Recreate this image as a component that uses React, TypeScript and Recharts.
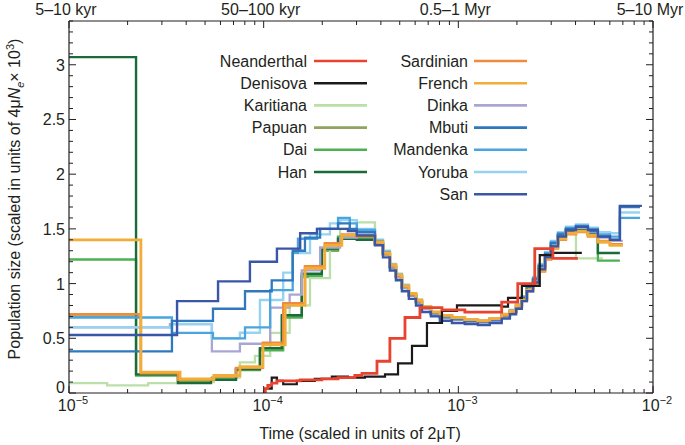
import { LineChart, Line, XAxis, YAxis, Legend, Label } from "recharts";

const W = 685;
const H = 445;
const PLOT = { left: 69, top: 21, right: 653, bottom: 393 };
const FONT = "'Liberation Sans', Arial, Helvetica, sans-serif";
const INK = "#231f20";

// axis labels
const decades = [1e-5, 1e-4, 1e-3, 1e-2];
const decadeExponents = ["−5", "−4", "−3", "−2"];
const topLabels = ["5–10 kyr", "50–100 kyr", "0.5–1 Myr", "5–10 Myr"];
const sizeLabels = [0, 0.5, 1, 1.5, 2, 2.5, 3];
const sizeMax = 3.4;

const timeTicks: number[] = [];
decades.forEach((d, i) => {
  timeTicks.push(d);
  if (i < decades.length - 1) for (let k = 2; k <= 9; k++) timeTicks.push(k * d);
});
const sizeTicks: number[] = [];
for (let i = 0; i <= 34; i++) sizeTicks.push(i / 10);

type Step = [number, number];

// shared PSMC interval starts for the modern samples after the 300 kyr peak
const lateTimes = [
  3.01e-4, 3.73e-4, 4.1e-4, 4.45e-4, 4.78e-4, 5.13e-4, 5.57e-4, 6.06e-4, 6.5e-4, 7.23e-4,
  8.04e-4, 9.27e-4, 1.08e-3, 1.26e-3, 1.45e-3, 1.67e-3, 1.84e-3, 1.98e-3, 2.12e-3, 2.25e-3,
  2.42e-3, 2.59e-3, 2.79e-3, 2.99e-3, 3.25e-3, 3.57e-3, 4.02e-3, 4.63e-3, 5.21e-3, 6.01e-3,
  6.76e-3,
];

const neanderthalSteps: Step[] = [
  [9.91e-5, 0.01], [1.02e-4, 0.04], [1.05e-4, 0.07], [1.1e-4, 0.09], [1.17e-4, 0.11],
  [1.54e-4, 0.12], [1.99e-4, 0.13], [2.41e-4, 0.14], [2.94e-4, 0.16], [3.2e-4, 0.18],
  [3.82e-4, 0.29], [4.45e-4, 0.5], [5.32e-4, 0.69], [6.35e-4, 0.78], [8.24e-4, 0.76],
  [1.08e-3, 0.74], [1.67e-3, 0.83], [2.02e-3, 1.0], [2.47e-3, 1.32], [3.06e-3, 1.23],
];
const neanderthalEnd = 4.11e-3;

const denisovaSteps: Step[] = [
  [1.02e-4, 0.04], [1.1e-4, 0.14], [1.17e-4, 0.11], [1.26e-4, 0.08], [1.48e-4, 0.11],
  [1.83e-4, 0.13], [2.24e-4, 0.15], [2.71e-4, 0.14], [3.31e-4, 0.15], [4.2e-4, 0.17],
  [4.9e-4, 0.27], [5.78e-4, 0.43], [6.9e-4, 0.64], [8.24e-4, 0.75], [9.84e-4, 0.8],
  [1.67e-3, 0.79], [1.8e-3, 0.87], [2.12e-3, 0.98], [2.62e-3, 1.26], [3.06e-3, 1.28],
];
const denisovaEnd = 4.31e-3;

const karitianaEarly: Step[] = [
  [1e-5, 0.09], [1.57e-5, 0.07], [2.55e-5, 0.09], [3.72e-5, 0.1], [5.55e-5, 0.14],
  [7.55e-5, 0.28], [9.02e-5, 0.34], [1.08e-4, 0.55], [1.36e-4, 0.8], [1.73e-4, 1.05],
  [2.19e-4, 1.37], [2.47e-4, 1.5], [2.77e-4, 1.58],
];
const karitianaLate = [
  1.56, 1.4, 1.29, 1.17, 1.08, 0.98, 0.91, 0.85, 0.79, 0.74, 0.71, 0.69, 0.67, 0.66, 0.68,
  0.72, 0.76, 0.81, 0.88, 0.98, 1.05, 1.17, 1.28, 1.38, 1.45, 1.47, 1.23, 1.23, 1.23,
];
const karitianaEnd = 5.53e-3;

const papuanEarly: Step[] = [
  [1e-5, 0.7], [2.34e-5, 0.17], [3.63e-5, 0.11], [5.42e-5, 0.14], [7.21e-5, 0.22],
  [9.57e-5, 0.4], [1.24e-4, 0.7], [1.57e-4, 1.06], [1.99e-4, 1.3], [2.41e-4, 1.42],
];
const papuanLate = [
  1.43, 1.37, 1.27, 1.16, 1.07, 0.97, 0.9, 0.84, 0.78, 0.73, 0.7, 0.68, 0.66, 0.65, 0.67,
  0.71, 0.75, 0.8, 0.87, 0.97, 1.04, 1.16, 1.27, 1.37, 1.45, 1.49, 1.5, 1.46, 1.38, 1.36,
];
const papuanEnd = 6.76e-3;

const daiEarly: Step[] = [
  [1e-5, 1.22], [2.21e-5, 0.16], [3.63e-5, 0.1], [5.36e-5, 0.13], [7.21e-5, 0.21],
  [9.57e-5, 0.39], [1.26e-4, 0.69], [1.57e-4, 1.07], [1.99e-4, 1.31], [2.41e-4, 1.43],
];
const daiLate = [
  1.42, 1.36, 1.27, 1.15, 1.06, 0.96, 0.89, 0.83, 0.77, 0.72, 0.69, 0.67, 0.65, 0.64, 0.66,
  0.7, 0.74, 0.79, 0.86, 0.96, 1.03, 1.15, 1.26, 1.36, 1.44, 1.48, 1.49, 1.45, 1.21, 1.21,
];
const daiEnd = 6.76e-3;

const hanEarly: Step[] = [
  [1e-5, 3.07], [2.21e-5, 0.17], [3.63e-5, 0.09], [5.36e-5, 0.12], [7.21e-5, 0.22],
  [9.57e-5, 0.41], [1.24e-4, 0.71], [1.57e-4, 1.09], [1.99e-4, 1.32], [2.41e-4, 1.41],
];
const hanLate = [
  1.4, 1.36, 1.27, 1.15, 1.06, 0.96, 0.89, 0.83, 0.77, 0.72, 0.69, 0.67, 0.65, 0.64, 0.66,
  0.7, 0.74, 0.79, 0.86, 0.96, 1.03, 1.15, 1.26, 1.36, 1.44, 1.48, 1.49, 1.45, 1.28, 1.28,
];
const hanEnd = 6.76e-3;

const sardinianEarly: Step[] = [
  [1e-5, 0.72], [2.34e-5, 0.18], [3.63e-5, 0.12], [5.55e-5, 0.15], [7.21e-5, 0.23],
  [9.91e-5, 0.46], [1.26e-4, 0.82], [1.63e-4, 1.16], [2.06e-4, 1.37], [2.52e-4, 1.45],
];
const sardinianLate = [
  1.43, 1.37, 1.27, 1.16, 1.07, 0.97, 0.9, 0.84, 0.78, 0.74, 0.71, 0.69, 0.67, 0.66, 0.68,
  0.71, 0.74, 0.79, 0.84, 0.93, 1.0, 1.11, 1.22, 1.32, 1.4, 1.45, 1.47, 1.43, 1.39, 1.36,
];
const sardinianEnd = 7.0e-3;

const frenchEarly: Step[] = [
  [1e-5, 1.4], [2.34e-5, 0.19], [3.72e-5, 0.13], [5.55e-5, 0.16], [7.55e-5, 0.24],
  [9.91e-5, 0.44], [1.29e-4, 0.8], [1.63e-4, 1.14], [2.06e-4, 1.35], [2.52e-4, 1.44],
];
const frenchLate = [
  1.44, 1.38, 1.28, 1.17, 1.08, 0.98, 0.91, 0.85, 0.79, 0.74, 0.71, 0.69, 0.67, 0.66, 0.68,
  0.72, 0.75, 0.8, 0.85, 0.94, 1.01, 1.12, 1.23, 1.33, 1.41, 1.46, 1.48, 1.44, 1.38, 1.35,
];
const frenchEnd = 7.0e-3;

const dinkaEarly: Step[] = [
  [1e-5, 0.6], [3.3e-5, 0.63], [5.42e-5, 0.38], [7.55e-5, 0.45], [1.08e-4, 0.78],
  [1.36e-4, 0.9], [1.57e-4, 1.12], [1.95e-4, 1.33], [2.47e-4, 1.42],
];
const dinkaLate = [
  1.45, 1.37, 1.27, 1.15, 1.06, 0.96, 0.89, 0.83, 0.77, 0.72, 0.69, 0.67, 0.65, 0.64, 0.66,
  0.7, 0.74, 0.79, 0.86, 0.96, 1.03, 1.15, 1.26, 1.36, 1.44, 1.49, 1.51, 1.47, 1.42, 1.39,
];
const dinkaEnd = 7.0e-3;

const mbutiEarly: Step[] = [
  [1e-5, 0.38], [3.38e-5, 0.66], [5.49e-5, 0.77], [8.02e-5, 0.93], [1.1e-4, 1.03],
  [1.41e-4, 1.3], [1.63e-4, 1.42], [1.95e-4, 1.5], [2.41e-4, 1.55], [2.77e-4, 1.5],
];
const mbutiLate = [
  1.47, 1.38, 1.28, 1.16, 1.07, 0.97, 0.9, 0.84, 0.78, 0.73, 0.7, 0.68, 0.66, 0.65, 0.67,
  0.71, 0.75, 0.8, 0.87, 0.97, 1.04, 1.16, 1.27, 1.37, 1.45, 1.5, 1.52, 1.48, 1.43, 1.4, 1.7,
];
const mbutiEnd = 8.57e-3;

const mandenkaEarly: Step[] = [
  [1e-5, 0.69], [3.38e-5, 0.55], [5.49e-5, 0.5], [8.02e-5, 0.6], [1.08e-4, 0.94],
  [1.41e-4, 1.28], [1.5e-4, 1.41], [1.88e-4, 1.5], [2.41e-4, 1.6], [2.77e-4, 1.55],
];
const mandenkaLate = [
  1.49, 1.39, 1.29, 1.17, 1.08, 0.98, 0.9, 0.84, 0.78, 0.73, 0.7, 0.68, 0.66, 0.65, 0.67,
  0.71, 0.75, 0.8, 0.88, 0.98, 1.05, 1.17, 1.28, 1.38, 1.46, 1.51, 1.53, 1.5, 1.45, 1.43, 1.6,
];
const mandenkaEnd = 8.57e-3;

const yorubaEarly: Step[] = [
  [1e-5, 0.6], [3.38e-5, 0.63], [5.42e-5, 0.5], [7.55e-5, 0.55], [9.57e-5, 0.85],
  [1.26e-4, 1.1], [1.41e-4, 1.28], [1.73e-4, 1.45], [2.19e-4, 1.55], [2.47e-4, 1.58],
];
const yorubaLate = [
  1.5, 1.4, 1.3, 1.18, 1.09, 0.99, 0.91, 0.85, 0.79, 0.74, 0.71, 0.69, 0.67, 0.66, 0.68,
  0.72, 0.76, 0.81, 0.88, 0.98, 1.06, 1.18, 1.29, 1.39, 1.47, 1.52, 1.54, 1.51, 1.47, 1.46, 1.65,
];
const yorubaEnd = 8.57e-3;

const sanEarly: Step[] = [
  [1e-5, 0.53], [3.59e-5, 0.84], [5.83e-5, 1.02], [8.5e-5, 1.2], [1.17e-4, 1.32],
  [1.54e-4, 1.46], [1.88e-4, 1.5], [2.71e-4, 1.48],
];
const sanLate = [
  1.44, 1.35, 1.24, 1.12, 1.03, 0.93, 0.86, 0.8, 0.74, 0.7, 0.66, 0.64, 0.63, 0.62, 0.64,
  0.68, 0.72, 0.77, 0.84, 0.93, 1.01, 1.13, 1.24, 1.34, 1.43, 1.49, 1.52, 1.49, 1.43, 1.4, 1.71,
];
const sanEnd = 8.77e-3;

function toRows(early: Step[], late: number[], end: number) {
  const rows = early.map(([t, n]) => ({ t, n }));
  late.forEach((n, i) => {
    if (lateTimes[i] < end) rows.push({ t: lateTimes[i], n });
  });
  rows.push({ t: end, n: rows[rows.length - 1].n });
  return rows;
}

// drawing order: first is at the bottom
const series = [
  { name: "Papuan", color: "#8fa45c", width: 2.3, rows: toRows(papuanEarly, papuanLate, papuanEnd) },
  { name: "Karitiana", color: "#badfa9", width: 2.3, rows: toRows(karitianaEarly, karitianaLate, karitianaEnd) },
  { name: "Dai", color: "#4db052", width: 2.3, rows: toRows(daiEarly, daiLate, daiEnd) },
  { name: "Han", color: "#1b6a39", width: 2.4, rows: toRows(hanEarly, hanLate, hanEnd) },
  { name: "Dinka", color: "#aaa6d4", width: 2.3, rows: toRows(dinkaEarly, dinkaLate, dinkaEnd) },
  { name: "Yoruba", color: "#97d3f1", width: 2.4, rows: toRows(yorubaEarly, yorubaLate, yorubaEnd) },
  { name: "Mandenka", color: "#4aa5de", width: 2.3, rows: toRows(mandenkaEarly, mandenkaLate, mandenkaEnd) },
  { name: "Mbuti", color: "#2f78bd", width: 2.3, rows: toRows(mbutiEarly, mbutiLate, mbutiEnd) },
  { name: "Sardinian", color: "#f08a3c", width: 2.4, rows: toRows(sardinianEarly, sardinianLate, sardinianEnd) },
  { name: "French", color: "#f2ad38", width: 2.8, rows: toRows(frenchEarly, frenchLate, frenchEnd) },
  { name: "San", color: "#3a56a6", width: 2.4, rows: toRows(sanEarly, sanLate, sanEnd) },
  { name: "Denisova", color: "#1a1a1a", width: 2.2, rows: toRows(denisovaSteps, [], denisovaEnd) },
  { name: "Neanderthal", color: "#e8432f", width: 2.8, rows: toRows(neanderthalSteps, [], neanderthalEnd) },
];

const legendLeft = ["Neanderthal", "Denisova", "Karitiana", "Papuan", "Dai", "Han"];
const legendRight = ["Sardinian", "French", "Dinka", "Mbuti", "Mandenka", "Yoruba", "San"];
const colorOf = (name: string) => series.find((s) => s.name === name)?.color ?? INK;

function BottomTick(props: any) {
  const { x, payload } = props;
  const i = decades.indexOf(payload.value);
  const len = i >= 0 ? 7 : 4;
  return (
    <g>
      <line x1={x} x2={x} y1={PLOT.bottom} y2={PLOT.bottom - len} stroke={INK} strokeWidth={1} />
      {i >= 0 && (
        <text x={x + 4} y={PLOT.bottom + 18} textAnchor="middle" fontSize={16} fill={INK} fontFamily={FONT}>
          10<tspan dy={-7} fontSize={11}>{decadeExponents[i]}</tspan>
        </text>
      )}
    </g>
  );
}

function TopTick(props: any) {
  const { x, payload } = props;
  const i = decades.indexOf(payload.value);
  const len = i >= 0 ? 7 : 4;
  return (
    <g>
      <line x1={x} x2={x} y1={PLOT.top} y2={PLOT.top + len} stroke={INK} strokeWidth={1} />
      {i >= 0 && (
        <text x={x - 3} y={15} textAnchor="middle" fontSize={16} fill={INK} fontFamily={FONT}>
          {topLabels[i]}
        </text>
      )}
    </g>
  );
}

function LeftTick(props: any) {
  const { y, payload } = props;
  const major = sizeLabels.includes(payload.value);
  // the zero label sits a little above its tick so it clears the time labels
  const baseline = payload.value === 0 ? y : y + 6;
  return (
    <g>
      <line x1={PLOT.left} x2={PLOT.left + (major ? 7 : 4)} y1={y} y2={y} stroke={INK} strokeWidth={1} />
      {major && (
        <text x={PLOT.left - 4} y={baseline} textAnchor="end" fontSize={16} fill={INK} fontFamily={FONT}>
          {payload.value}
        </text>
      )}
    </g>
  );
}

function RightTick(props: any) {
  const { y, payload } = props;
  const major = sizeLabels.includes(payload.value);
  return <line x1={PLOT.right} x2={PLOT.right - (major ? 7 : 4)} y1={y} y2={y} stroke={INK} strokeWidth={1} />;
}

function XTitle() {
  return (
    <text x={360} y={439} textAnchor="middle" fontSize={16} fill={INK} fontFamily={FONT}>
      Time (scaled in units of 2μT)
    </text>
  );
}

function YTitle() {
  return (
    <text transform="translate(20 199) rotate(-90)" textAnchor="middle" fontSize={16} fill={INK} fontFamily={FONT}>
      Population size (scaled in units of 4μ<tspan fontStyle="italic">N</tspan>
      <tspan fontStyle="italic" fontSize={11} dy={4}>e</tspan>
      <tspan dy={-4}>× 10</tspan>
      <tspan fontSize={11} dy={-6}>3</tspan>
      <tspan dy={6}>)</tspan>
    </text>
  );
}

function LegendBox() {
  const row = (names: string[], textRight: number, lineFrom: number, lineTo: number) =>
    names.map((name, i) => {
      const cy = 61 + i * 22.2;
      return (
        <g key={name}>
          <text x={textRight} y={cy + 5.5} textAnchor="end" fontSize={16} fill={INK} fontFamily={FONT}>
            {name}
          </text>
          <line x1={lineFrom} x2={lineTo} y1={cy} y2={cy} stroke={colorOf(name)} strokeWidth={2.6} />
        </g>
      );
    });
  return (
    <svg width={W} height={210} style={{ display: "block" }}>
      {row(legendLeft, 307, 314, 367)}
      {row(legendRight, 468, 474, 527)}
    </svg>
  );
}

export default function App() {
  return (
    <div style={{ position: "absolute", left: 0, top: 0, width: W, height: H, background: "#fff", fontFamily: FONT }}>
      <LineChart width={W} height={H} margin={{ top: 0, right: 0, bottom: 0, left: 0 }}>
        <XAxis
          xAxisId="b"
          dataKey="t"
          type="number"
          scale="log"
          domain={[1e-5, 1e-2]}
          allowDataOverflow
          ticks={timeTicks}
          interval={0}
          tick={BottomTick}
          tickLine={false}
          axisLine={{ stroke: INK, strokeWidth: 1.2 }}
          height={52}
        >
          <Label content={XTitle} />
        </XAxis>
        <XAxis
          xAxisId="top"
          orientation="top"
          dataKey="t"
          type="number"
          scale="log"
          domain={[1e-5, 1e-2]}
          allowDataOverflow
          ticks={timeTicks}
          interval={0}
          tick={TopTick}
          tickLine={false}
          axisLine={{ stroke: INK, strokeWidth: 1.2 }}
          height={21}
        />
        <YAxis
          yAxisId="l"
          type="number"
          domain={[0, sizeMax]}
          allowDataOverflow
          ticks={sizeTicks}
          interval={0}
          tick={LeftTick}
          tickLine={false}
          axisLine={{ stroke: INK, strokeWidth: 1.2 }}
          width={69}
        >
          <Label content={YTitle} />
        </YAxis>
        <YAxis
          yAxisId="r"
          orientation="right"
          type="number"
          domain={[0, sizeMax]}
          allowDataOverflow
          ticks={sizeTicks}
          interval={0}
          tick={RightTick}
          tickLine={false}
          axisLine={{ stroke: INK, strokeWidth: 1.2 }}
          width={32}
        />
        <Legend
          content={LegendBox}
          layout="vertical"
          align="center"
          verticalAlign="middle"
          wrapperStyle={{ left: 0, top: 0, width: W, height: 210, pointerEvents: "none" }}
        />
        {series.map((s) => (
          <Line
            key={s.name}
            name={s.name}
            data={s.rows}
            dataKey="n"
            xAxisId="b"
            yAxisId="l"
            type="stepAfter"
            stroke={s.color}
            strokeWidth={s.width}
            dot={false}
            activeDot={false}
            isAnimationActive={false}
          />
        ))}
      </LineChart>
    </div>
  );
}
